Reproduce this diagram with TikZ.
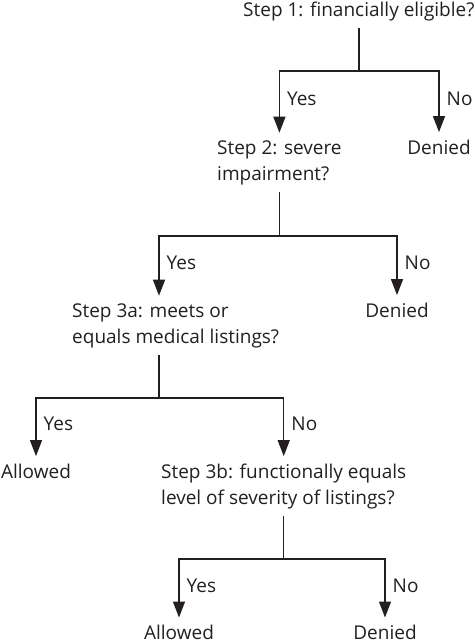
\documentclass[tikz,border=0pt]{standalone}
\usepackage{fontspec}
\setmainfont{Open Sans}
\usepackage{xcolor}
\usepackage{tikz}
\usetikzlibrary{
	arrows.meta
}
\definecolor{ink}{HTML}{231F20}

\begin{document}
\begin{tikzpicture}[x=1pt,y=-1pt,
	every node/.style={font=\fontsize{19}{26}\selectfont,text=ink,inner sep=0pt},
	query/.style={align=left,anchor=north west},
	outcome/.style={anchor=north},
	stem/.style={draw=ink,line width=1.4pt,shorten <=7pt},
	branch/.style={draw=ink,line width=1.4pt,-{Triangle[length=16pt,width=12pt]},shorten >=7.5pt},
	lbl/.style={right=7pt,pos=0.7}
	]
	\useasboundingbox (0,0) rectangle (474,640);
	\node[query] (S1) at (243,1.6) {Step 1: financially eligible?};
	\node[query] (S2) at (217,140.2) {Step 2: severe\\impairment?};
	\node[outcome] (D1) at (439,139.6) {Denied};
	\node[query] (S3a) at (72,303.2) {Step 3a: meets or\\equals medical listings?};
	\node[outcome] (D2) at (397,302.6) {Denied};
	\node[outcome] (A1) at (36,463.6) {Allowed};
	\node[query] (S3b) at (161,463.6) {Step 3b: functionally equals\\level of severity of listings?};
	\node[outcome] (A2) at (179,625) {Allowed};
	\node[outcome] (D3) at (385,625) {Denied};
	%
	\coordinate (F1) at (S1.south |- 0,71);
	\coordinate (F2) at (S2.south |- 0,236);
	\coordinate (F3) at (159,398);
	\coordinate (F4) at (S3b.south |- 0,559);
	%
	\draw[stem] (S1) -- (F1);
	\draw[branch] (F1) -| node[lbl]{Yes} (S2);
	\draw[branch] (F1) -| node[lbl]{No} (D1);
	%
	\draw[stem] (S2) -- (F2);
	\draw[branch] (F2) -| node[lbl]{Yes} (S3a.north -| F3);
	\draw[branch] (F2) -| node[lbl]{No} (D2);
	%
	\draw[stem] (S3a.south -| F3) -- (F3);
	\draw[branch] (F3) -| node[lbl]{Yes} (A1);
	\draw[branch] (F3) -| node[lbl]{No} (S3b);
	%
	\draw[stem] (S3b) -- (F4);
	\draw[branch] (F4) -| node[lbl]{Yes} (A2);
	\draw[branch] (F4) -| node[lbl]{No} (D3);
\end{tikzpicture}
\end{document}
